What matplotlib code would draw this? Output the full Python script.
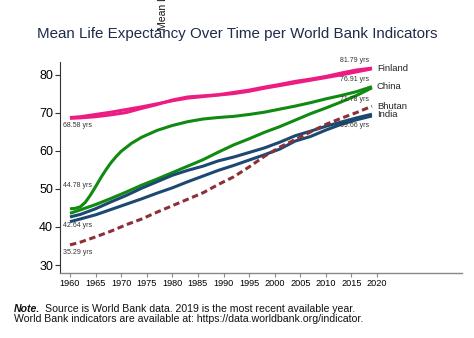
import matplotlib.pyplot as plt

# ===== DATA =====
years = [1960, 1962, 1965, 1968, 1971, 1974, 1977, 1980, 1983, 1986, 1989,
         1992, 1995, 1998, 2001, 2004, 2007, 2010, 2013, 2016, 2019]

finland_raw = [68.58, 68.7, 69.0, 69.5, 70.1, 71.2, 72.2, 73.4, 74.2, 74.5, 74.8,
               75.4, 76.0, 76.8, 77.5, 78.3, 78.9, 79.6, 80.5, 81.3, 81.79]
finland_fit = [68.8, 69.0, 69.6, 70.2, 70.9, 71.6, 72.4, 73.2, 73.9, 74.3, 74.7,
               75.1, 75.7, 76.5, 77.2, 77.9, 78.6, 79.3, 80.0, 80.8, 81.6]

# China's early rise is steep, so it gets a denser year grid
china_years = [1960, 1961, 1962, 1963, 1964, 1965, 1966, 1967, 1968, 1969, 1970,
               1972, 1974, 1977, 1980, 1983, 1986, 1989, 1992, 1995, 1998,
               2001, 2004, 2007, 2010, 2013, 2016, 2019]
china_raw = [44.78, 44.9, 45.3, 46.5, 48.4, 50.6, 52.9, 55.0, 56.9, 58.5, 59.9,
             62.0, 63.6, 65.4, 66.7, 67.7, 68.4, 68.8, 69.1, 69.6, 70.2,
             71.0, 71.8, 72.7, 73.7, 74.6, 75.6, 76.91]
china_fit = [43.6, 44.5, 45.9, 47.5, 49.2, 51.0, 52.6, 54.3, 56.0, 57.7, 59.7,
             61.6, 63.2, 64.9, 66.4, 68.1, 69.8, 71.3, 72.9, 74.6, 76.6]

india_raw = [42.64, 43.3, 44.8, 46.6, 48.3, 50.2, 51.9, 53.6, 54.9, 56.0, 57.4,
             58.4, 59.6, 60.8, 62.3, 64.0, 65.2, 66.5, 67.6, 68.7, 69.66]
india_fit = [41.4, 42.1, 43.2, 44.6, 46.0, 47.4, 48.9, 50.3, 51.9, 53.4, 54.9,
             56.2, 57.6, 59.0, 60.5, 62.6, 63.8, 65.5, 67.0, 68.2, 69.2]

bhutan = [35.29, 36.0, 37.4, 38.9, 40.6, 42.1, 43.9, 45.6, 47.3, 49.0, 51.2,
          53.2, 55.8, 58.6, 61.0, 63.0, 65.0, 67.0, 68.6, 70.1, 71.78]

countries = ["Finland", "China", "Bhutan", "India"]
start_vals = [finland_raw[0], china_raw[0], bhutan[0], india_raw[0]]
end_vals = [finland_raw[-1], china_raw[-1], bhutan[-1], india_raw[-1]]

# ===== STYLE =====
plt.rcParams['font.family'] = ['Liberation Sans', 'DejaVu Sans']

PINK = "#ec1c82"
GREEN = "#108a10"
NAVY = "#1c4872"
MAROON = "#8c3038"
LW = 2.2

fig = plt.figure(figsize=(4.74, 3.38), dpi=100)
ax = fig.add_axes([0.1266, 0.1923, 0.8481, 0.6243])

ax.plot(years, finland_fit, color=PINK, lw=LW, solid_capstyle='butt')
ax.plot(years, finland_raw, color=PINK, lw=LW, solid_capstyle='butt')
ax.plot(years, china_fit, color=GREEN, lw=LW, solid_capstyle='butt')
ax.plot(china_years, china_raw, color=GREEN, lw=LW, solid_capstyle='butt')
ax.plot(years, india_fit, color=NAVY, lw=LW, solid_capstyle='butt')
ax.plot(years, india_raw, color=NAVY, lw=LW, solid_capstyle='butt')
ax.plot(years, bhutan, color=MAROON, lw=LW, dashes=(2.1, 1.2))

# value labels at first and last year (offsets in points)
start_offsets = [(-5.3, -4.8), (-5.3, 16.5), (-5.3, -5.6), (-5.3, -5.8)]
end_offsets = [(-2, 5.2), (-2, 4.8), (-2, 5.0), (-2, -8.2)]
for name, v0, v1, so, eo in zip(countries, start_vals, end_vals,
                                start_offsets, end_offsets):
    ax.annotate(f"{v0:.2f} yrs", xy=(years[0], v0), xytext=so,
                textcoords='offset points', ha='left', va='center',
                fontsize=5, color="#333333")
    ax.annotate(f"{v1:.2f} yrs", xy=(years[-1], v1), xytext=eo,
                textcoords='offset points', ha='right', va='center',
                fontsize=5, color="#333333")
    ax.annotate(name, xy=(years[-1], v1), xytext=(3.5, 0),
                textcoords='offset points', ha='left', va='center',
                fontsize=6.8, color="#222222")

# ===== AXES =====
ax.set_xlim(1958.05, 2036.6)
ax.set_ylim(27.9, 83.4)
ax.set_xticks(range(1960, 2021, 5))
ax.set_yticks(range(30, 81, 10))
ax.tick_params(axis='x', labelsize=6.6, length=3, width=0.8, pad=1.5,
               color="#888888")
ax.tick_params(axis='y', labelsize=9, length=3.5, width=0.8, pad=1.5,
               color="#333333")
ax.spines['top'].set_visible(False)
ax.spines['right'].set_visible(False)
ax.spines['left'].set_color("#333333")
ax.spines['bottom'].set_color("#888888")
ax.spines['left'].set_linewidth(0.8)
ax.spines['bottom'].set_linewidth(1.0)

# ===== TITLE / NOTES =====
fig.text(0.5, 1 - 34 / 338, "Mean Life Expectancy Over Time per World Bank Indicators",
         ha='center', va='center', fontsize=10.9, color="#1e2b4a")
fig.text(163 / 474, 1 - 30 / 338, "Mean Life Expectancy", rotation=90,
         ha='center', va='bottom', fontsize=7.5, color="#111111")

fig.text(14 / 474, 1 - 309 / 338, "Note.", ha='left', va='center',
         fontsize=7.6, fontweight='bold', fontstyle='italic', color="#111111")
fig.text(45 / 474, 1 - 309 / 338,
         "Source is World Bank data. 2019 is the most recent available year.",
         ha='left', va='center', fontsize=7.6, color="#111111")
fig.text(14 / 474, 1 - 319 / 338,
         "World Bank indicators are available at: https://data.worldbank.org/indicator.",
         ha='left', va='center', fontsize=7.6, color="#111111")

fig.savefig("out.png", dpi=100)
